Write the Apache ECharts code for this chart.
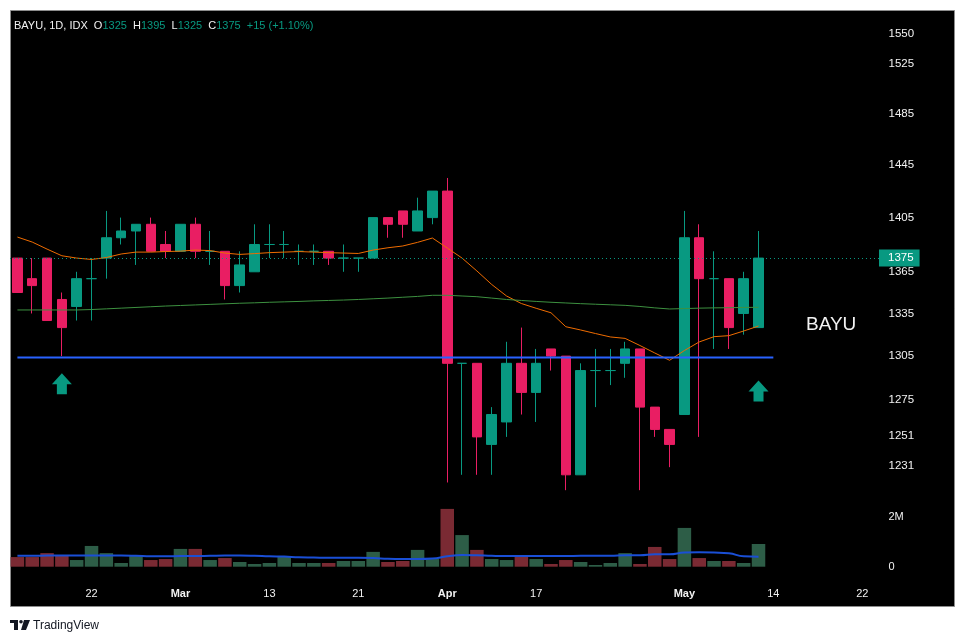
<!DOCTYPE html>
<html>
<head>
<meta charset="utf-8">
<title>BAYU, 1D, IDX</title>
<script src="https://cdn.jsdelivr.net/npm/echarts@6.0.0/dist/echarts.min.js"></script>
<style>
  html, body { margin: 0; padding: 0; background: #fff; }
  #chart { width: 965px; height: 643px; }
</style>
</head>
<body>
<div id="chart"></div>
<script>
// trading days with candles, then the empty days on the right
const dates = [
  '2024-02-15', '2024-02-16', '2024-02-19', '2024-02-20', '2024-02-21', '2024-02-22', '2024-02-23',
  '2024-02-26', '2024-02-27', '2024-02-28', '2024-02-29',
  '2024-03-01', '2024-03-04', '2024-03-05', '2024-03-06', '2024-03-07', '2024-03-08', '2024-03-13',
  '2024-03-14', '2024-03-15', '2024-03-18', '2024-03-19', '2024-03-20', '2024-03-21', '2024-03-22',
  '2024-03-25', '2024-03-26', '2024-03-27', '2024-03-28',
  '2024-04-01', '2024-04-02', '2024-04-03', '2024-04-04', '2024-04-05', '2024-04-16', '2024-04-17',
  '2024-04-18', '2024-04-19', '2024-04-22', '2024-04-23', '2024-04-24', '2024-04-25', '2024-04-26',
  '2024-04-29', '2024-04-30',
  '2024-05-02', '2024-05-03', '2024-05-06', '2024-05-07', '2024-05-08', '2024-05-13'
]
const futureDates = ['2024-05-14', '2024-05-15', '2024-05-16', '2024-05-17', '2024-05-20', '2024-05-21', '2024-05-22', '2024-05-27']

const opens = [
  1375, 1360, 1375, 1345, 1340, 1360, 1375, 1390, 1395, 1400,
  1385, 1380, 1400, 1380, 1380, 1355, 1365, 1385, 1385, 1380,
  1380, 1380, 1375, 1375, 1375, 1405, 1410, 1395, 1405, 1425,
  1300, 1300, 1245, 1260, 1300, 1280, 1310, 1305, 1225, 1295,
  1295, 1300, 1310, 1270, 1255, 1265, 1390, 1360, 1360, 1335,
  1325
]
const closes = [
  1350, 1355, 1330, 1325, 1360, 1360, 1390, 1395, 1400, 1380,
  1380, 1400, 1380, 1380, 1355, 1370, 1385, 1385, 1385, 1380,
  1380, 1375, 1375, 1375, 1405, 1400, 1400, 1410, 1425, 1300,
  1300, 1250, 1265, 1300, 1280, 1300, 1305, 1225, 1295, 1295,
  1295, 1310, 1270, 1255, 1245, 1390, 1360, 1360, 1325, 1360,
  1375
]
const lows = [
  1350, 1335, 1330, 1305, 1330, 1330, 1360, 1385, 1370, 1380,
  1375, 1380, 1375, 1370, 1345, 1350, 1365, 1375, 1375, 1370,
  1370, 1370, 1365, 1365, 1375, 1390, 1390, 1395, 1400, 1220,
  1225, 1225, 1225, 1250, 1265, 1260, 1295, 1215, 1225, 1270,
  1285, 1290, 1215, 1250, 1230, 1265, 1250, 1310, 1310, 1320,
  1325
]
const highs = [
  1375, 1375, 1375, 1350, 1365, 1375, 1410, 1405, 1400, 1405,
  1395, 1400, 1405, 1395, 1380, 1380, 1400, 1400, 1395, 1385,
  1385, 1380, 1385, 1375, 1405, 1405, 1410, 1420, 1425, 1435,
  1300, 1300, 1270, 1315, 1325, 1310, 1310, 1305, 1300, 1310,
  1310, 1315, 1310, 1270, 1255, 1410, 1400, 1380, 1360, 1365,
  1395
]
const volumes = [
  390000, 390000, 550000, 470000, 270000, 840000, 550000, 150000, 430000, 270000,
  310000, 720000, 720000, 270000, 350000, 190000, 110000, 150000, 430000, 150000,
  150000, 150000, 230000, 230000, 600000, 190000, 230000, 680000, 310000, 2340000,
  1280000, 680000, 310000, 270000, 470000, 310000, 110000, 270000, 190000, 70000,
  150000, 550000, 110000, 800000, 310000, 1570000, 350000, 230000, 230000, 150000,
  920000
]
const volumeMa = [
  440000, 440000, 450000, 450000, 450000, 450000, 450000, 450000, 440000, 420000,
  420000, 430000, 430000, 440000, 450000, 450000, 440000, 420000, 410000, 380000,
  370000, 360000, 360000, 360000, 350000, 320000, 310000, 310000, 330000, 420000,
  470000, 460000, 440000, 430000, 430000, 430000, 430000, 430000, 440000, 440000,
  440000, 460000, 460000, 500000, 500000, 570000, 580000, 570000, 540000, 420000,
  400000
]
const fastMa = [
  1390.5, 1386.8, 1381.6, 1376.7, 1375, 1374, 1375.4, 1378, 1379.4, 1379.4,
  1379.8, 1380.1, 1380.9, 1380.5, 1378.7, 1377.7, 1378.3, 1379, 1379.4, 1379.8,
  1379.4, 1379, 1378.7, 1378.4, 1380.9, 1382.6, 1383.9, 1386.6, 1389.8, 1382.4,
  1375, 1365.6, 1355.8, 1347.5, 1342.1, 1338.7, 1335.5, 1325.6, 1323.3, 1320.8,
  1318.4, 1317.4, 1312.4, 1307.2, 1302.1, 1308.9, 1314.9, 1318.6, 1319.3, 1322.6,
  1326.1
]
const slowMa = [
  1337.5, 1337.5, 1337.5, 1337.5, 1337.5, 1337.8, 1338.3, 1338.8, 1339.3, 1339.8,
  1340.3, 1340.7, 1341.1, 1341.5, 1341.9, 1342.3, 1342.6, 1343, 1343.3, 1343.6,
  1344, 1344.3, 1344.6, 1345, 1345.5, 1346, 1346.6, 1347.2, 1348, 1348,
  1347.5, 1347, 1346, 1345, 1344.3, 1343.6, 1343, 1342.5, 1342, 1341.6,
  1341.2, 1340.8, 1340, 1339, 1338.2, 1338.5, 1338.8, 1339, 1339.1, 1339.3,
  1339.4
]

const supportLevel = 1304
const supportEnd = '2024-05-14'
const priceTicks = [1550, 1525, 1485, 1445, 1405, 1365, 1335, 1305, 1275, 1251, 1231]
const volumeTicks = [0, 2000000]
const xTicks = {
  '2024-02-22': '22', '2024-03-01': 'Mar', '2024-03-13': '13', '2024-03-21': '21',
  '2024-04-01': 'Apr', '2024-04-17': '17', '2024-05-02': 'May', '2024-05-14': '14', '2024-05-22': '22'
}
const monthTicks = ['Mar', 'Apr', 'May']
const arrowMarks = [['2024-02-20', 1286], ['2024-05-13', 1281]]

const UP = '#089981'
const DOWN = '#e91e63'
const VOL_UP = '#2d5d47'
const VOL_DOWN = '#7a2a33'
const FONT = '"Liberation Sans", Arial, sans-serif'

const allDates = dates.concat(futureDates)
const candles = dates.map((d, i) => [opens[i], closes[i], lows[i], highs[i]])
const supportEndIdx = allDates.indexOf(supportEnd)
const supportLine = allDates.map((d, i) => (i <= supportEndIdx ? supportLevel : null))

const last = dates.length - 1
const change = closes[last] - closes[last - 1]
const changePct = (change / closes[last - 1] * 100).toFixed(2)

const chart = echarts.init(document.getElementById('chart'))

const option = {
  animation: false,
  backgroundColor: '#ffffff',
  textStyle: { fontFamily: FONT },
  grid: [
    { left: 10, right: 80.5, top: 10, bottom: 63 },
    { left: 10, right: 80.5, top: 467.9, bottom: 76.3 }
  ],
  xAxis: [
    {
      type: 'category',
      gridIndex: 0,
      data: allDates,
      boundaryGap: true,
      axisLine: { show: false },
      axisTick: { show: false },
      splitLine: { show: false },
      axisLabel: {
        interval: (idx, value) => value in xTicks,
        formatter: value => {
          const t = xTicks[value] || ''
          return monthTicks.includes(t) ? '{b|' + t + '}' : t
        },
        color: '#f2f2f2',
        fontSize: 11,
        margin: 8,
        rich: { b: { fontWeight: 'bold', fontSize: 11, color: '#f2f2f2' } }
      }
    },
    {
      type: 'category',
      gridIndex: 1,
      data: allDates,
      boundaryGap: true,
      show: false
    }
  ],
  yAxis: [
    {
      type: 'log',
      gridIndex: 0,
      position: 'right',
      min: 1158.2,
      max: 1569.4,
      axisLine: { show: false },
      axisTick: { show: false },
      splitLine: { show: false },
      axisLabel: {
        customValues: priceTicks,
        formatter: v => String(Math.round(v)),
        color: '#f2f2f2',
        fontSize: 11.5,
        margin: 4
      }
    },
    {
      type: 'value',
      gridIndex: 1,
      position: 'right',
      min: 0,
      max: 4000000,
      axisLine: { show: false },
      axisTick: { show: false },
      splitLine: { show: false },
      axisLabel: {
        customValues: volumeTicks,
        formatter: v => (v === 0 ? '0' : v / 1000000 + 'M'),
        color: '#f2f2f2',
        fontSize: 11,
        margin: 4
      }
    }
  ],
  series: [
    {
      name: 'Volume',
      type: 'bar',
      xAxisIndex: 1,
      yAxisIndex: 1,
      data: volumes,
      barWidth: 13.5,
      itemStyle: {
        color: p => (closes[p.dataIndex] >= opens[p.dataIndex] ? VOL_UP : VOL_DOWN)
      }
    },
    {
      name: 'Volume MA',
      type: 'line',
      xAxisIndex: 1,
      yAxisIndex: 1,
      data: volumeMa,
      smooth: true,
      showSymbol: false,
      lineStyle: { color: '#1a4fd6', width: 2 }
    },
    {
      name: 'BAYU',
      type: 'candlestick',
      data: candles,
      barWidth: 10,
      z: 2,
      itemStyle: {
        color: UP,
        color0: DOWN,
        borderColor: UP,
        borderColor0: DOWN,
        borderColorDoji: UP,
        borderWidth: 1
      },
      markLine: {
        silent: true,
        symbol: ['none', 'none'],
        lineStyle: { color: UP, type: [1, 3], width: 1 },
        label: {
          show: true,
          position: 'end',
          distance: -5.5,
          formatter: () => String(closes[last]),
          color: '#ffffff',
          backgroundColor: UP,
          padding: [3, 6, 2, 9],
          fontSize: 11.5
        },
        data: [{ yAxis: closes[last] }]
      },
      markPoint: {
        silent: true,
        symbol: 'path://M10 0 L20 11 L15 11 L15 21 L5 21 L5 11 L0 11 Z',
        symbolSize: [20, 21],
        symbolKeepAspect: false,
        itemStyle: { color: UP },
        label: { show: false },
        data: arrowMarks.map(a => ({ coord: a }))
      }
    },
    {
      name: 'MA fast',
      type: 'line',
      data: fastMa,
      showSymbol: false,
      z: 3,
      lineStyle: { color: '#ef6c00', width: 1 }
    },
    {
      name: 'MA slow',
      type: 'line',
      data: slowMa,
      showSymbol: false,
      z: 3,
      lineStyle: { color: '#3d9140', width: 1 }
    },
    {
      name: 'Support',
      type: 'line',
      data: supportLine,
      showSymbol: false,
      z: 4,
      lineStyle: { color: '#2962ff', width: 2 }
    }
  ],
  graphic: [
    {
      type: 'rect',
      z: -10,
      shape: { x: 10.5, y: 10.5, width: 944, height: 596 },
      style: { fill: '#000000', stroke: '#8c8c8c', lineWidth: 1 }
    },
    {
      type: 'text',
      left: 14,
      top: 20,
      z: 100,
      style: {
        text: '{w|BAYU, 1D, IDX}  {w|O}{g|' + opens[last] + '}  {w|H}{g|' + highs[last] +
          '}  {w|L}{g|' + lows[last] + '}  {w|C}{g|' + closes[last] + '}  {g|' +
          (change > 0 ? '+' : '') + change + ' (' + (change > 0 ? '+' : '') + changePct + '%)}',
        font: '11px ' + FONT,
        rich: {
          w: { fill: '#f2f2f2', fontSize: 11, fontFamily: FONT },
          g: { fill: UP, fontSize: 11, fontFamily: FONT }
        }
      }
    },
    {
      type: 'text',
      left: 806,
      top: 315,
      z: 100,
      style: { text: 'BAYU', fill: '#f2f2f2', font: '19px ' + FONT }
    },
    {
      type: 'group',
      left: 10,
      top: 620,
      children: [
        { type: 'rect', shape: { x: 0, y: 0, width: 8, height: 3 }, style: { fill: '#131722' } },
        { type: 'rect', shape: { x: 4, y: 0, width: 4, height: 10 }, style: { fill: '#131722' } },
        { type: 'circle', shape: { cx: 11, cy: 1.8, r: 1.8 }, style: { fill: '#131722' } },
        { type: 'polygon', shape: { points: [[14, 0], [20, 0], [16, 10], [11, 10]] }, style: { fill: '#131722' } }
      ]
    },
    {
      type: 'text',
      left: 33,
      top: 620,
      style: { text: 'TradingView', fill: '#131722', font: '12px ' + FONT }
    }
  ]
}

chart.setOption(option)
</script>
</body>
</html>
